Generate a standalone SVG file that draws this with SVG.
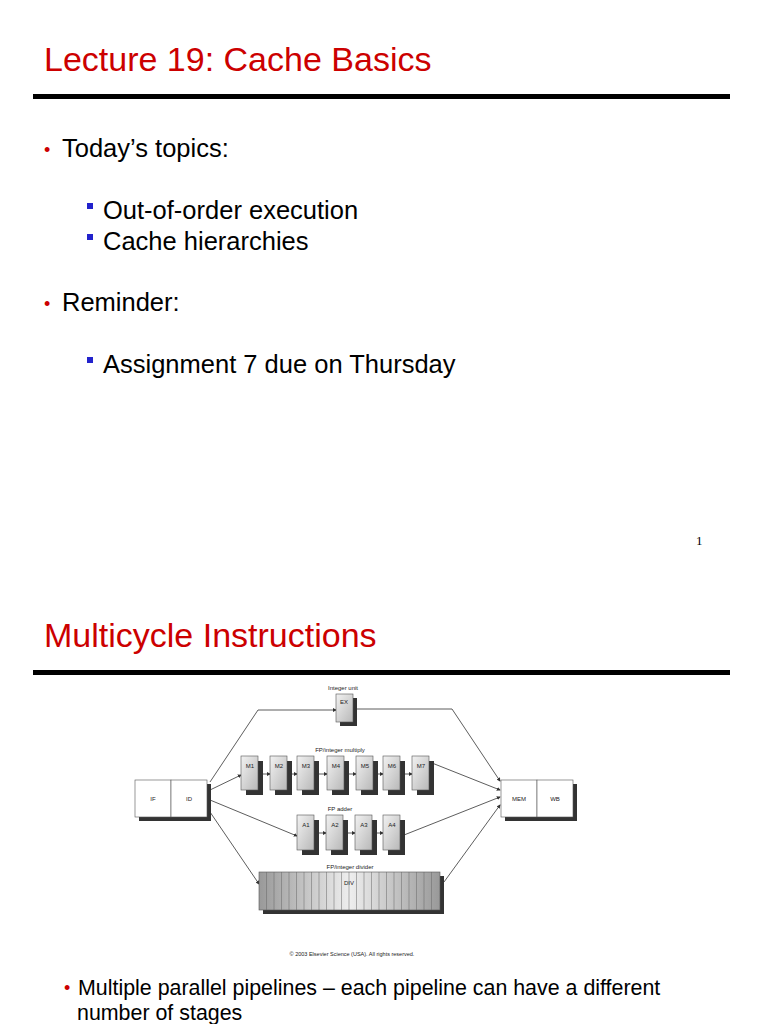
<svg xmlns="http://www.w3.org/2000/svg" width="768" height="1024" viewBox="0 0 768 1024">
<defs>
<style>
.t{font-family:"Liberation Sans",Arial,sans-serif;fill:#cc0000;font-size:34px}
.b{font-family:"Liberation Sans",Arial,sans-serif;font-size:25.5px;fill:#000}
.rb{fill:#cc0000;font-family:"Liberation Sans",sans-serif;font-size:18px}
.sq{fill:#2222cc}
.s{font-family:"Liberation Sans",Arial,sans-serif;font-size:6px;fill:#222;text-anchor:middle}
.box{fill:url(#g);stroke:#555;stroke-width:0.6}
.wb{fill:#fff;stroke:#555;stroke-width:0.6}
.sh{fill:#333}
.c{stroke:#333;stroke-width:0.8;fill:none;marker-end:url(#a)}
</style>
<linearGradient id="g" x1="0" y1="0" x2="1" y2="1"><stop offset="0" stop-color="#f2f2f2"/><stop offset="1" stop-color="#b8b8b8"/></linearGradient>
<linearGradient id="dg" x1="0" y1="0" x2="1" y2="0"><stop offset="0" stop-color="#999"/><stop offset="0.5" stop-color="#eee"/><stop offset="1" stop-color="#999"/></linearGradient>
<marker id="a" markerWidth="5" markerHeight="5" refX="4" refY="2.5" orient="auto"><path d="M0,0 L5,2.5 L0,5z" fill="#333"/></marker>
</defs>
<rect width="768" height="1024" fill="#fff"/>
<text class="t" x="44" y="71">Lecture 19: Cache Basics</text>
<rect x="33" y="94" width="697" height="5" fill="#000"/>
<text class="rb" x="44" y="156">•</text><text class="b" x="62" y="157">Today’s topics:</text>
<rect class="sq" x="87" y="203" width="6" height="6"/><text class="b" x="103" y="219">Out-of-order execution</text>
<rect class="sq" x="87" y="234" width="6" height="6"/><text class="b" x="103" y="250">Cache hierarchies</text>
<text class="rb" x="44" y="310">•</text><text class="b" x="62" y="311">Reminder:</text>
<rect class="sq" x="87" y="357" width="6" height="6"/><text class="b" x="103" y="373">Assignment 7 due on Thursday</text>
<text x="696" y="545" font-family="Liberation Serif,serif" font-size="13">1</text>

<text class="t" x="44" y="647">Multicycle Instructions</text>
<rect x="33" y="670" width="697" height="5" fill="#000"/>

<g id="connectors">
<polyline class="c" points="210,782 258,710 336,710"/>
<polyline class="c" points="353,709 452,709 500,781"/>
<line class="c" x1="210" y1="790" x2="241" y2="775"/>
<line class="c" x1="432" y1="763" x2="500" y2="790"/>
<line class="c" x1="210" y1="800" x2="297" y2="836"/>
<line class="c" x1="404" y1="835" x2="500" y2="797"/>
<line class="c" x1="210" y1="812" x2="259" y2="884"/>
<line class="c" x1="444" y1="882" x2="500" y2="805"/>
<g stroke="#333" stroke-width="0.8" marker-end="url(#a)">
<line x1="258" y1="774" x2="270" y2="774"/><line x1="287" y1="774" x2="297" y2="774"/><line x1="314" y1="774" x2="327" y2="774"/><line x1="344" y1="774" x2="356" y2="774"/><line x1="373" y1="774" x2="383" y2="774"/><line x1="400" y1="774" x2="412" y2="774"/>
<line x1="314" y1="833" x2="326" y2="833"/><line x1="343" y1="833" x2="355" y2="833"/><line x1="372" y1="833" x2="383" y2="833"/>
</g>
</g>

<g id="IF"><rect class="sh" x="139" y="784" width="36" height="37"/><rect class="wb" x="135" y="780" width="36" height="37"/><text class="s" x="153" y="801">IF</text></g>
<g id="ID"><rect class="sh" x="175" y="784" width="36" height="37"/><rect class="wb" x="171" y="780" width="36" height="37"/><text class="s" x="189" y="801">ID</text></g>
<g id="MEM"><rect class="sh" x="505" y="784" width="36" height="37"/><rect class="wb" x="501" y="780" width="36" height="37"/><text class="s" x="519" y="801">MEM</text></g>
<g id="WB"><rect class="sh" x="541" y="784" width="36" height="37"/><rect class="wb" x="537" y="780" width="36" height="37"/><text class="s" x="555" y="801">WB</text></g>

<text class="s" x="343" y="690">Integer unit</text>
<g id="EX"><rect class="sh" x="340" y="698" width="17" height="28"/><rect class="box" x="336" y="694" width="17" height="28"/><text class="s" x="344" y="704">EX</text></g>

<text class="s" x="340" y="752">FP/integer multiply</text>
<g id="M1"><rect class="sh" x="246" y="761" width="17" height="34"/><rect class="box" x="241" y="756" width="17" height="34"/><text class="s" x="250" y="768">M1</text></g>
<g id="M2"><rect class="sh" x="275" y="761" width="17" height="34"/><rect class="box" x="270" y="756" width="17" height="34"/><text class="s" x="279" y="768">M2</text></g>
<g id="M3"><rect class="sh" x="302" y="761" width="17" height="34"/><rect class="box" x="297" y="756" width="17" height="34"/><text class="s" x="306" y="768">M3</text></g>
<g id="M4"><rect class="sh" x="332" y="761" width="17" height="34"/><rect class="box" x="327" y="756" width="17" height="34"/><text class="s" x="336" y="768">M4</text></g>
<g id="M5"><rect class="sh" x="361" y="761" width="17" height="34"/><rect class="box" x="356" y="756" width="17" height="34"/><text class="s" x="365" y="768">M5</text></g>
<g id="M6"><rect class="sh" x="388" y="761" width="17" height="34"/><rect class="box" x="383" y="756" width="17" height="34"/><text class="s" x="392" y="768">M6</text></g>
<g id="M7"><rect class="sh" x="417" y="761" width="17" height="34"/><rect class="box" x="412" y="756" width="17" height="34"/><text class="s" x="421" y="768">M7</text></g>

<text class="s" x="340" y="811">FP adder</text>
<g id="A1"><rect class="sh" x="302" y="820" width="17" height="35"/><rect class="box" x="297" y="815" width="17" height="35"/><text class="s" x="306" y="827">A1</text></g>
<g id="A2"><rect class="sh" x="331" y="820" width="17" height="35"/><rect class="box" x="326" y="815" width="17" height="35"/><text class="s" x="335" y="827">A2</text></g>
<g id="A3"><rect class="sh" x="360" y="820" width="17" height="35"/><rect class="box" x="355" y="815" width="17" height="35"/><text class="s" x="364" y="827">A3</text></g>
<g id="A4"><rect class="sh" x="388" y="820" width="17" height="35"/><rect class="box" x="383" y="815" width="17" height="35"/><text class="s" x="392" y="827">A4</text></g>

<text class="s" x="350" y="869">FP/integer divider</text>
<g id="DIV"><rect class="sh" x="263" y="876" width="181" height="38"/><rect x="259" y="872" width="181" height="38" fill="url(#dg)" stroke="#555" stroke-width="0.6"/>
<path stroke="#666" stroke-width="0.5" d="M266.5,872v38M274,872v38M281.5,872v38M289,872v38M296.5,872v38M304,872v38M311.5,872v38M319,872v38M326.5,872v38M334,872v38M341.5,872v38M349,872v38M356.5,872v38M364,872v38M371.5,872v38M379,872v38M386.5,872v38M394,872v38M401.5,872v38M409,872v38M416.5,872v38M424,872v38M431.5,872v38"/>
<text class="s" x="349" y="885">DIV</text></g>

<text class="s" x="352" y="956" style="font-size:5.5px">© 2003 Elsevier Science (USA). All rights reserved.</text>
<text class="rb" x="64" y="994">•</text><text class="b" x="78" y="995" style="font-size:21.4px">Multiple parallel pipelines – each pipeline can have a different</text>
<text class="b" x="77" y="1020" style="font-size:21.4px">number of stages</text>
</svg>
